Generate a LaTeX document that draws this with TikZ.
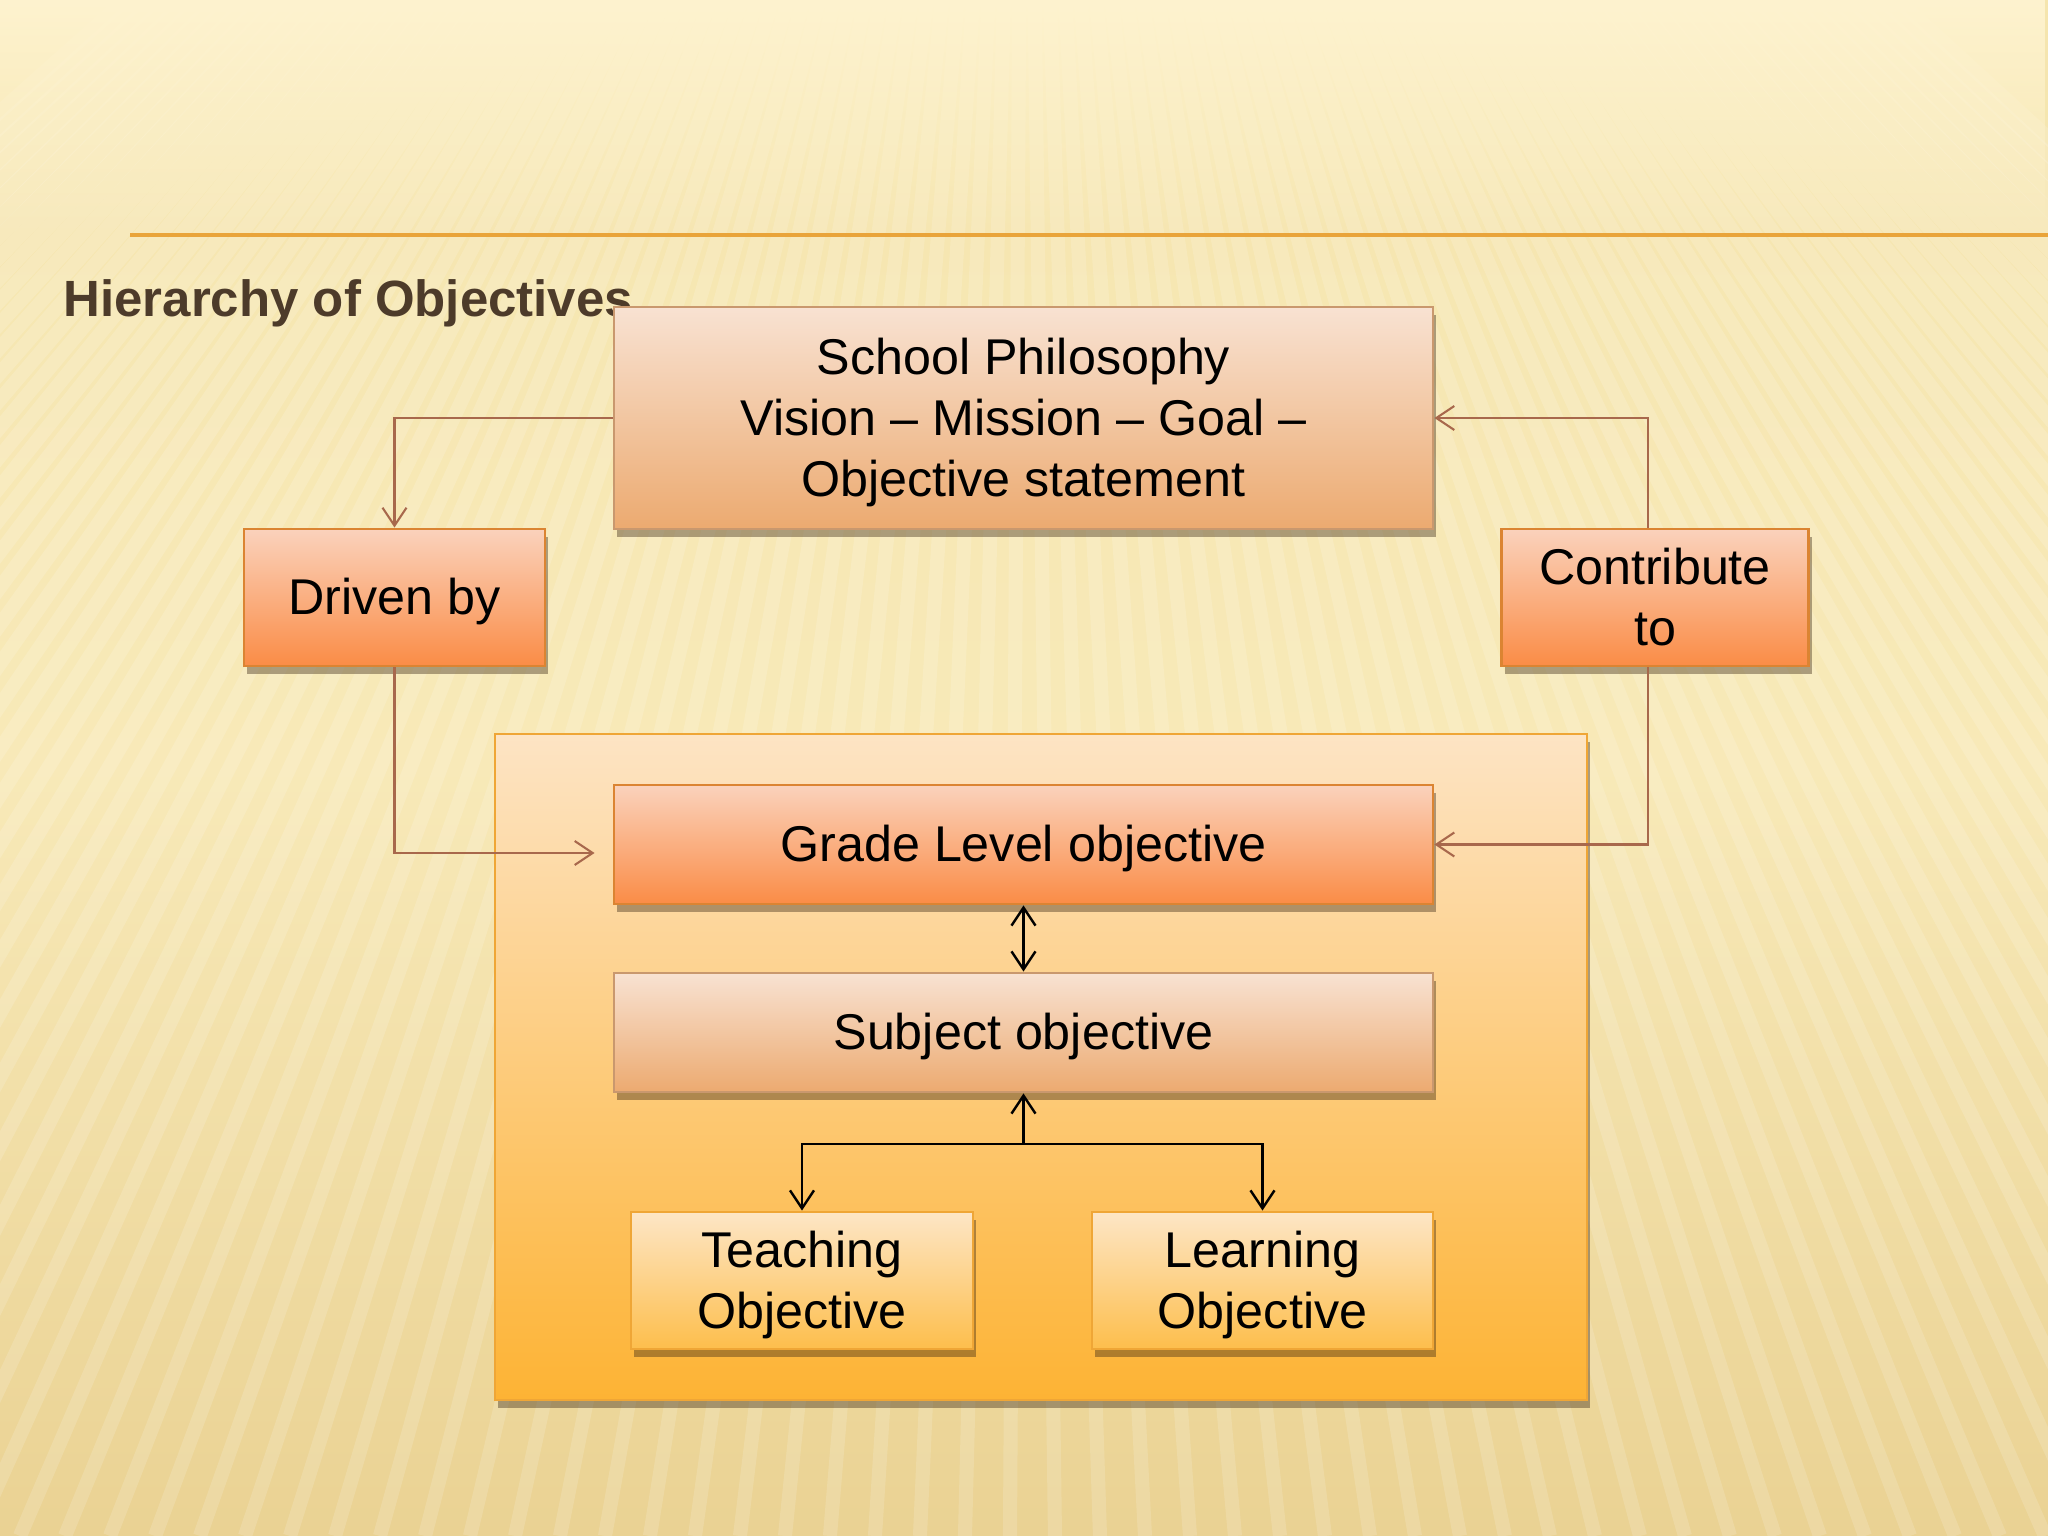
\documentclass[tikz,border=0pt]{standalone}
\usepackage{fontspec}
\setmainfont{Liberation Sans}
\usetikzlibrary{positioning,shadows,arrows.meta,fadings}

\definecolor{bgtop}{HTML}{FEF3CF}
\definecolor{bgmid}{HTML}{F5E5AE}
\definecolor{bgbot}{HTML}{EAD293}
\definecolor{titlebrown}{HTML}{4D3B2A}
\definecolor{linkbrown}{HTML}{A8684C}
\definecolor{ruleorange}{HTML}{E9A43A}
\definecolor{peachtop}{HTML}{F8E2D2}
\definecolor{peachbot}{HTML}{ECAA70}
\definecolor{peachline}{HTML}{C9986E}
\definecolor{orangetop}{HTML}{FAD2BC}
\definecolor{orangebot}{HTML}{FA8C46}
\definecolor{orangeline}{HTML}{DB8432}
\definecolor{ambertop}{HTML}{FDE6C6}
\definecolor{amberbot}{HTML}{FDBE4C}
\definecolor{amberline}{HTML}{EFA636}
\definecolor{frametop}{HTML}{FDE4C4}
\definecolor{framebot}{HTML}{FDB334}

\tikzfading[name=fadedown, top color=transparent!0, middle color=transparent!25, bottom color=transparent!100]
\newcommand\pptstrut{\rule[-0.212em]{0pt}{1.117em}}

\begin{document}
\begin{tikzpicture}[on grid,
	box/.style={rectangle, align=center, inner sep=0pt, line width=0.8pt,
		font=\fontsize{14.3}{17.4}\selectfont,
		execute at begin node=\pptstrut, execute at end node=\pptstrut,
		drop shadow={shadow xshift=0.3mm, shadow yshift=-0.8mm, opacity=0.4, fill=black!70!brown}},
	peach/.style={box, draw=peachline, top color=peachtop, bottom color=peachbot},
	hot/.style={box, draw=orangeline, top color=orangetop, bottom color=orangebot},
	amber/.style={box, draw=amberline, top color=ambertop, bottom color=amberbot},
	link/.style={draw=linkbrown, line width=0.6pt, -{Straight Barb[length=1.8mm,width=2.4mm]}},
	inner/.style={draw=black, line width=0.7pt, -{Straight Barb[length=1.8mm,width=2.4mm]}}]
	
	% page and background
	\useasboundingbox (0,0) rectangle (20.48,-15.36);
	\fill[top color=bgmid, bottom color=bgbot, middle color=bgmid!70!bgtop] (0,0) rectangle (20.48,-15.36);
	\begin{scope}
		\clip (0,0) rectangle (20.48,-15.36);
		\foreach \x in {-16,-15.55,...,36}
			\draw[white, opacity=0.15, line width=4pt] (10.24,8) -- (\x,-15.36);
	\end{scope}
	\fill[bgtop, path fading=fadedown] (0,0) rectangle (20.48,-2.4);
	\draw[ruleorange, line width=1pt] (1.3,-2.35) -- (20.48,-2.35);
	\node[anchor=base west, inner sep=0pt, text=titlebrown, font=\fontsize{14.5}{17}\selectfont\bfseries] (title) at (0.63,-3.17) {Hierarchy of Objectives};
	
	% frame round the inner objectives
	\node[draw=amberline, line width=0.8pt, top color=frametop, bottom color=framebot, minimum width=10.92cm, minimum height=6.66cm,
		drop shadow={shadow xshift=0.3mm, shadow yshift=-0.8mm, opacity=0.4, fill=black!70!brown}] (frame) at (10.41,-10.67) {};
	
	\node[peach, minimum width=8.19cm, minimum height=2.22cm] (school) at (10.235,-4.18) {\pptstrut School Philosophy\\Vision – Mission – Goal –\\Objective statement};
	\node[hot, minimum width=3.01cm, minimum height=1.37cm] (driven) at (3.945,-5.975) {Driven by};
	\node[hot, minimum width=3.07cm, minimum height=1.37cm] (contrib) at (16.55,-5.975) {\pptstrut Contribute\\to};
	\node[hot, minimum width=8.19cm, minimum height=1.19cm] (grade) at (10.235,-8.445) {Grade Level objective};
	\node[peach, minimum width=8.19cm, minimum height=1.19cm] (subject) [below=1.88cm of grade] {Subject objective};
	\node[amber, minimum width=3.42cm, minimum height=1.37cm] (teaching) [below left=2.48cm and 2.215cm of subject] {\pptstrut Teaching\\Objective};
	\node[amber, minimum width=3.41cm, minimum height=1.37cm] (learning) [below right=2.48cm and 2.39cm of subject] {\pptstrut Learning\\Objective};
	\coordinate (branch) at (10.235,-11.44);
	
	% connectors
	\draw[link] (school.west) -| (driven.north);
	\draw[link] (driven.south) |- ([xshift=-1.8mm,yshift=-0.85mm]grade.west);
	\draw[link] ([xshift=-0.7mm]contrib.north) |- (school.east);
	\draw[link] ([xshift=-0.7mm]contrib.south) |- (grade.east);
	\draw[inner, {Straight Barb[length=1.8mm,width=2.4mm]}-{Straight Barb[length=1.8mm,width=2.4mm]}] (grade.south) -- (subject.north);
	\draw[inner] (branch) -- (subject.south);
	\draw[inner, {Straight Barb[length=1.8mm,width=2.4mm]}-{Straight Barb[length=1.8mm,width=2.4mm]}] (teaching.north) |- (branch) -| (learning.north);
\end{tikzpicture}
\end{document}
